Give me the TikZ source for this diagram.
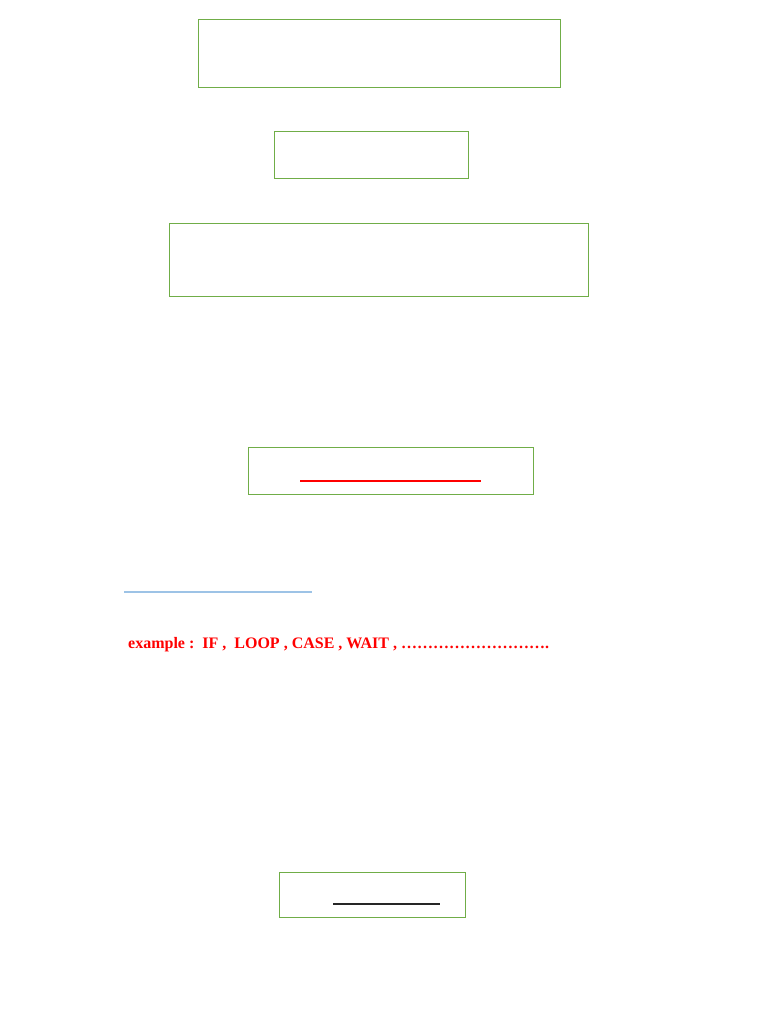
\documentclass[tikz,border=0pt]{standalone}
\usepackage{fontspec}
\setmainfont{Liberation Serif}
\usepackage{tikz}

\definecolor{boxgreen}{RGB}{112,173,71}
\definecolor{linkblue}{RGB}{157,195,230}

\begin{document}
\begin{tikzpicture}[x=1pt, y=-1pt,
    frame/.style={draw=boxgreen, line width=0.9pt, rectangle, inner sep=0pt}]
                % Page
                \useasboundingbox (0,0) rectangle (768,1024);

                % Top boxes
                \node[frame, minimum width=362pt, minimum height=68pt] (top) at (379,53) {};
                \node[frame, minimum width=194pt, minimum height=47pt] (mid) at (371,154.5) {};
                \node[frame, minimum width=419pt, minimum height=73pt] (wide) at (378.5,259.5) {};

                % Box with red underline
                \node[frame, minimum width=285pt, minimum height=47pt] (blank) at (390.5,470.5) {};
                \draw[red, line width=2pt] (300,481) -- (481,481);

                % Blue rule
                \draw[linkblue, line width=1.5pt] (124,592) -- (312,592);

                % Example line
                \node[anchor=base west, inner sep=0pt, text=red, font=\bfseries\fontsize{16}{18}\selectfont] (example) at (128,648)
                    {example :\ \ IF ,\ \ LOOP , CASE , WAIT , ……………………….};

                % Bottom box with black underline
                \node[frame, minimum width=186pt, minimum height=45pt] (last) at (372,894.5) {};
                \draw[black!85, line width=2pt] (333,904) -- (440,904);

            \end{tikzpicture}
\end{document}
